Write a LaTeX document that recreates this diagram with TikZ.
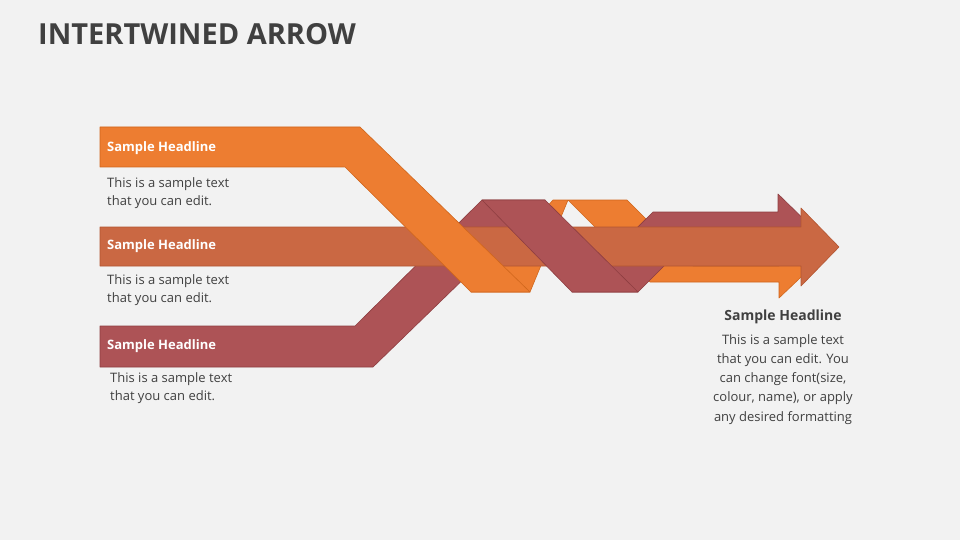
\documentclass[tikz,border=0pt]{standalone}
\usepackage{fontspec}
\setmainfont{Open Sans}
\begin{document}
\begin{tikzpicture}[x=1pt,y=-1pt,
  orn/.style={fill=orA,draw=orD,line width=0.6pt,line join=round},
  rd/.style={fill=rdA,draw=rdD,line width=0.6pt,line join=round},
  mid/.style={fill=mdA,draw=mdD,line width=0.6pt,line join=round},
  body/.style={font=\fontsize{13}{18.5}\selectfont,text=txt,align=left,anchor=north west,inner sep=0pt},
  barlbl/.style={font=\bfseries\fontsize{13}{15}\selectfont,text=white,anchor=west,inner sep=0pt}]
\definecolor{orA}{HTML}{ED7D31}\definecolor{orD}{HTML}{D0661C}
\definecolor{rdA}{HTML}{AD5356}\definecolor{rdD}{HTML}{8E3E41}
\definecolor{mdA}{HTML}{CA6843}\definecolor{mdD}{HTML}{B35531}
\definecolor{txt}{HTML}{404040}\definecolor{bg}{HTML}{F2F2F2}
\fill[bg] (0,0) rectangle (960,540);
\useasboundingbox (0,0) rectangle (960,540);
\node[anchor=west,inner sep=0pt,font=\bfseries\fontsize{29}{32}\selectfont,text=txt] (title) at (38,34) {INTERTWINED ARROW};
% behind layers
\draw[rd] (100,326)--(355,326)--(482,200)--(545,200)--(373,367)--(100,367)--cycle;
\draw[orn] (471,292)--(553,200)--(627,200)--(693,266)--(779,266)--(779,250)--(820,259)--(779,298)--(779,282)--(650,282)--(568,200)--(530,292)--cycle;
\draw[rd] (572,292)--(653,212)--(778,212)--(778,194)--(820,235)--(778,250)--(778,228)--(702,228)--(638,292)--cycle;
% middle arrow
\draw[mid] (100,227)--(801,227)--(801,208)--(839,247)--(801,286)--(801,266)--(100,266)--cycle;
% front layers
\draw[orn] (100,127)--(360,127)--(530,292)--(471,292)--(345,167)--(100,167)--cycle;
\draw[rd] (482,200)--(545,200)--(638,292)--(572,292)--cycle;
% labels
\node[barlbl] (h1) at (107,148) {Sample Headline};
\node[barlbl] (h2) at (107,246) {Sample Headline};
\node[barlbl] (h3) at (107,346) {Sample Headline};
\node[body] (t1) at (107,177) {This is a sample text\\that you can edit.};
\node[body] (t2) at (107,274) {This is a sample text\\that you can edit.};
\node[body] (t3) at (110,372) {This is a sample text\\that you can edit.};
\node[font=\bfseries\fontsize{14}{17}\selectfont,text=txt,inner sep=0pt] (h4) at (783,317) {Sample Headline};
\node[body,anchor=north,align=center,font=\fontsize{13}{19.3}\selectfont] (t4) at (783,334) {This is a sample text\\that you can edit. You\\can change font(size,\\colour, name), or apply\\any desired formatting};
\end{tikzpicture}
\end{document}
